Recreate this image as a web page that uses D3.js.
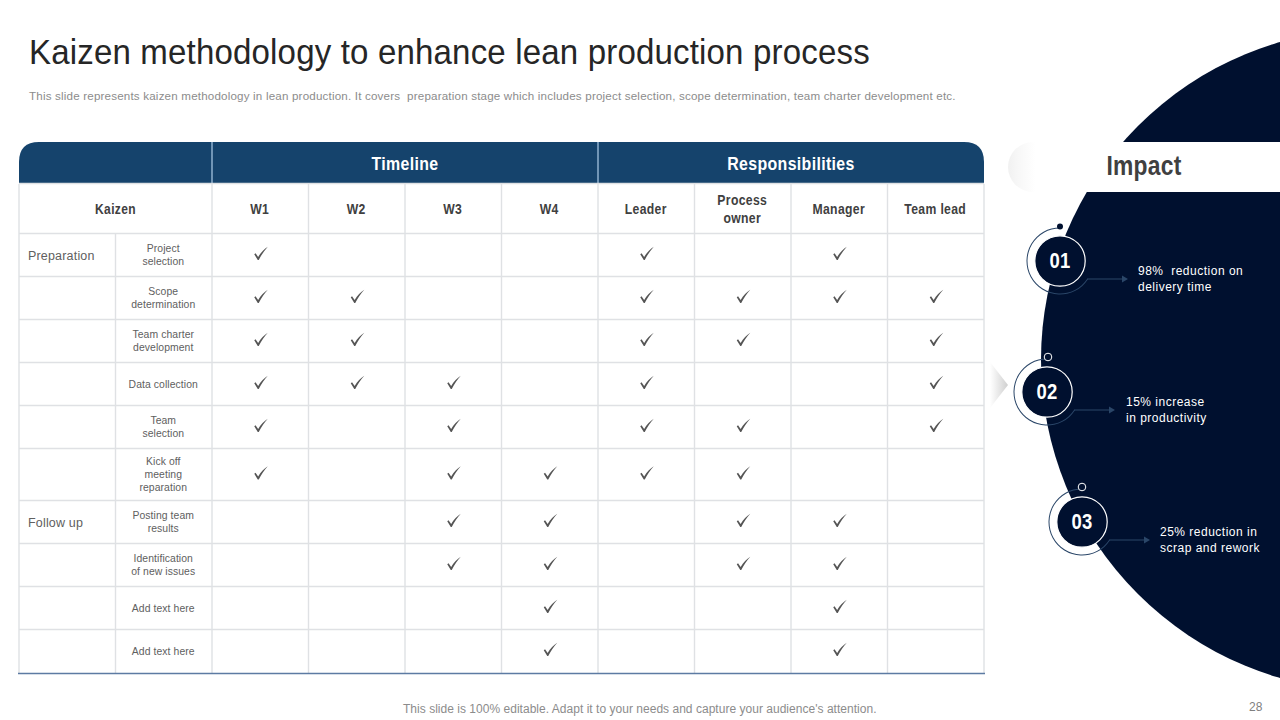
<![CDATA[<!DOCTYPE html>
<html><head><meta charset="utf-8">
<script src="https://cdn.jsdelivr.net/npm/d3@7/dist/d3.min.js"></script>
<style>
html,body{margin:0;padding:0;background:#fff;overflow:hidden}
svg{display:block}
text{font-family:"Liberation Sans",Arial,sans-serif}
.nar{font-weight:700}
</style></head><body>
<svg id="c" width="1280" height="720"></svg>
<script>
const titleText = "Kaizen methodology to enhance lean production process";
const subtitleText = "This slide represents kaizen methodology in lean production. It covers  preparation stage which includes project selection, scope determination, team charter development etc.";
const footerText = "This slide is 100% editable. Adapt it to your needs and capture your audience's attention.";
const pageNumber = "28";
const groupHeaders = [["Timeline",["W1","W4"]],["Responsibilities",["Leader","Team lead"]]];
const columns = ["W1","W2","W3","W4","Leader","Process owner","Manager","Team lead"];
const columnLines = [["W1"],["W2"],["W3"],["W4"],["Leader"],["Process","owner"],["Manager"],["Team lead"]];
const stages = ["Preparation","","","","","","Follow up","","",""];
const tasks = [["Project","selection"],["Scope","determination"],["Team charter","development"],["Data collection"],["Team","selection"],["Kick off","meeting","reparation"],["Posting team","results"],["Identification","of new issues"],["Add text here"],["Add text here"]];
const checks = [
 ["W1","Leader","Manager"],
 ["W1","W2","Leader","Process owner","Manager","Team lead"],
 ["W1","W2","Leader","Process owner","Team lead"],
 ["W1","W2","W3","Leader","Team lead"],
 ["W1","W3","Leader","Process owner","Team lead"],
 ["W1","W3","W4","Leader","Process owner"],
 ["W3","W4","Process owner","Manager"],
 ["W3","W4","Process owner","Manager"],
 ["W4","Manager"],
 ["W4","Manager"]];
const impactTitle = "Impact";
const impactIds = ["01","02","03"];
const impactLines = [["98%  reduction on","delivery time"],["15% increase","in productivity"],["25% reduction in","scrap and rework"]];

const svg = d3.select("#c");
const navy="#00102f", head="#15436c", grid="#dfe1e4", dark="#404040", mid="#606060";

const xi = d3.scaleLinear().domain([0,10]).range([19,984]);
const xCol = d3.scaleOrdinal().domain(columns).range(columns.map((c,i)=>xi(i+2)));
const rowEdges=[234,277,320,363,406,449,501,544,587,630,673];
const yEdge = d3.scaleOrdinal().domain(d3.range(11)).range(rowEdges);
const yHead0=142,yHead1=184;

function cond(x,y,t,size,k,ls,fill){
 return svg.append("text").attr("class","nar").attr("transform",`translate(${x},${y}) scale(${k},1)`)
  .attr("text-anchor","middle").attr("font-size",size).attr("fill",fill).style("letter-spacing",ls+"px").text(t);
}

const defs=svg.append("defs");
const g1=defs.append("linearGradient").attr("id","chev");
g1.append("stop").attr("offset",0).attr("stop-color","#fff");
g1.append("stop").attr("offset",1).attr("stop-color","#cfcfcf");
const g2=defs.append("linearGradient").attr("id","pillFill");
g2.append("stop").attr("offset",0).attr("stop-color","#f1f1f1");
g2.append("stop").attr("offset",0.035).attr("stop-color","#f7f7f7");
g2.append("stop").attr("offset",0.1).attr("stop-color","#fff");

svg.append("circle").attr("cx",1372).attr("cy",360).attr("r",331).attr("fill",navy);

svg.append("text").attr("transform","translate(29,64) scale(0.931,1)").attr("font-size",35.5).attr("fill","#262626").style("letter-spacing","0.18px").text(titleText);
svg.append("text").attr("x",29).attr("y",100).attr("font-size",11.6).attr("fill","#8c8c8c").style("white-space","pre").style("letter-spacing","0.185px").text(subtitleText);

const r=20,hx0=xi(0),hx1=xi(10);
svg.append("path").attr("fill",head).attr("d",`M${hx0},${yHead1}V${yHead0+r}Q${hx0},${yHead0} ${hx0+r},${yHead0}H${hx1-r}Q${hx1},${yHead0} ${hx1},${yHead0+r}V${yHead1}Z`);
[2,6].forEach(i=>svg.append("line").attr("x1",xi(i)).attr("x2",xi(i)).attr("y1",yHead0).attr("y2",yHead1).attr("stroke","#8fb0cf").attr("stroke-width",1.5));
groupHeaders.forEach(([t,[a,b]])=>{
 const mx=(xCol(a)+xCol(b)+(xi(1)-xi(0)))/2;
 cond(mx,170,t,18.5,0.86,0.4,"#fff");
});

const gl=svg.append("g").attr("stroke",grid).attr("stroke-width",1.4);
[yHead1].concat(rowEdges.slice(0,-1)).forEach(y=>gl.append("line").attr("x1",hx0).attr("x2",hx1).attr("y1",y-0.5).attr("y2",y-0.5));
d3.range(0,11).forEach(i=>{ if(i===1) gl.append("line").attr("x1",xi(1)).attr("x2",xi(1)).attr("y1",rowEdges[0]).attr("y2",673);
 else gl.append("line").attr("x1",xi(i)).attr("x2",xi(i)).attr("y1",yHead1).attr("y2",673);});
svg.append("line").attr("x1",hx0-1).attr("x2",hx1+1).attr("y1",673.5).attr("y2",673.5).attr("stroke","#5d7ba3").attr("stroke-width",1.5);

const cw=xi(1)-xi(0);
cond((xi(0)+xi(2))/2,213.5,"Kaizen",14,0.86,0.4,dark);
columnLines.forEach((ls,i)=>{
 const cx=xCol(columns[i])+cw/2-0.5;
 ls.forEach((t,k)=>cond(cx,213.5+(k-(ls.length-1)/2)*18,t,14,0.87,0.4,dark));
});

tasks.forEach((ls,i)=>{
 const y0=yEdge(i),y1=yEdge(i+1),cy=(y0+y1)/2;
 if(stages[i]) svg.append("text").attr("x",28).attr("y",cy+4).attr("font-size",12.5).attr("fill",mid).style("letter-spacing","0.18px").text(stages[i]);
 const dy=ls.length===1?3.5:2.5;
 ls.forEach((t,k)=>svg.append("text").attr("x",xi(1)+cw/2-0.5).attr("y",cy+dy+(k-(ls.length-1)/2)*13).attr("text-anchor","middle").attr("font-size",10.4).attr("fill",mid).style("letter-spacing","0.08px").text(t));
 checks[i].forEach(c=>{
  svg.append("path").attr("transform",`translate(${xCol(c)+cw/2+0.5},${cy-2})`)
   .attr("d","M-6.5,0.8 L-5.2,-0.2 L-2.6,3.4 C0,-1 3.5,-4.6 7,-6.8 C3.6,-3 0.4,1.6 -2,6.4 L-3,6.4 Z").attr("fill","#555");
 });
});

svg.append("path").attr("d","M1280,142H1033a25,25 0 0 0 0,50H1280Z").attr("fill","url(#pillFill)");
cond(1144,175,impactTitle,27.5,0.83,0.3,dark);

svg.append("path").attr("d","M990,362L1008,385L990,408Z").attr("fill","url(#chev)");

const bx=d3.scaleOrdinal().domain(impactIds).range([1060,1047,1082]);
const by=d3.scaleOrdinal().domain(impactIds).range([261,392,522]);
const tx=[1138,1126,1160];
const arc=d3.arc().innerRadius(32.5).outerRadius(33.5).startAngle(2.15).endAngle(2*Math.PI);
impactIds.forEach((id,i)=>{
 const x=bx(id),y=by(id);
 const g=svg.append("g").attr("transform",`translate(${x},${y})`);
 g.append("path").attr("d",arc()).attr("fill","#2a4668");
 g.append("circle").attr("r",25.2).attr("fill",navy).attr("stroke","#fff").attr("stroke-width",1.2);
 if(i===0) g.append("circle").attr("cy",-34.5).attr("r",3).attr("fill",navy);
 else g.append("circle").attr("cy",-35).attr("cx",i===1?1:0).attr("r",3.8).attr("fill",navy).attr("stroke","#fff").attr("stroke-width",1);
 g.append("path").attr("d","M27,18H66").attr("fill","none").attr("stroke","#2a4668").attr("stroke-width",1.2);
 g.append("path").attr("d","M62,14.5L68,18L62,21.5Z").attr("fill","#2a4668");
 cond(0,0,id,22,0.84,0.4,"#fff").attr("transform",`translate(${x},${y+7}) scale(0.84,1)`);
 impactLines[i].forEach((t,k)=>svg.append("text").attr("x",tx[i]).attr("y",y+14+k*16).attr("font-size",12).attr("fill","#fff").style("white-space","pre").style("letter-spacing","0.5px").text(t));
});

svg.append("text").attr("x",403).attr("y",713).attr("font-size",12).attr("fill","#8c8c8c").style("letter-spacing","0.025px").text(footerText);
svg.append("text").attr("x",1249).attr("y",711).attr("font-size",12).attr("fill","#7f7f7f").text(pageNumber);
</script>
</body></html>]]>
